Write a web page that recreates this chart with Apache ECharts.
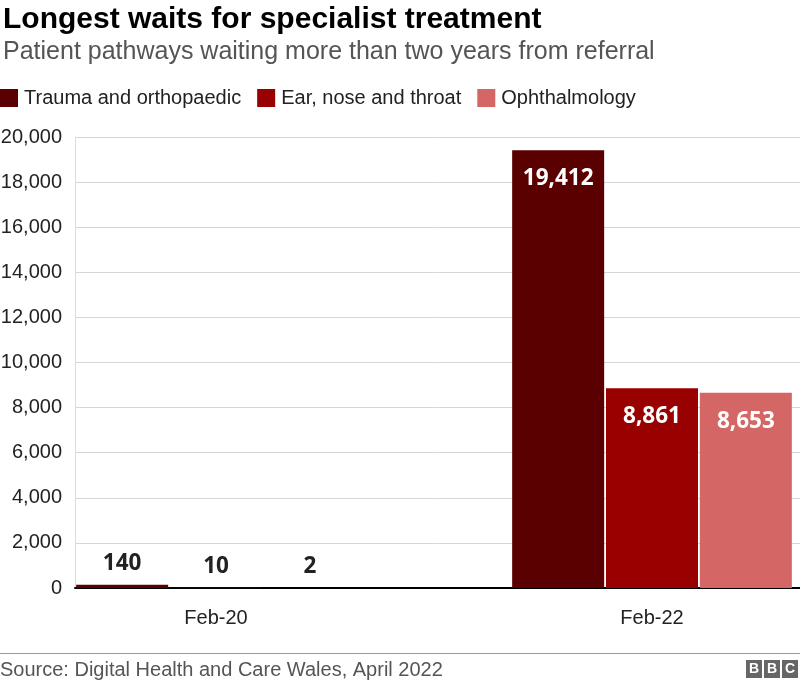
<!DOCTYPE html>
<html>
<head>
<meta charset="utf-8">
<script src="https://cdn.jsdelivr.net/npm/echarts@6/dist/echarts.min.js"></script>
<style>
html,body{margin:0;padding:0;background:#fff;}
#chart{width:800px;height:688px;}
</style>
</head>
<body>
<div id="chart"></div>
<script>
const categories = ['Feb-20', 'Feb-22'];
const trauma = [140, 19412];
const ent = [10, 8861];
const ophthalmology = [2, 8653];
const seriesNames = ['Trauma and orthopaedic', 'Ear, nose and throat', 'Ophthalmology'];
const seriesColors = ['#5a0000', '#990000', '#d56666'];

function fmt(v) { return String(v).replace(/\B(?=(\d{3})+(?!\d))/g, ','); }

function mkData(arr) {
  return arr.map(v => {
    const big = v > 5000;
    return {
      value: v,
      label: big ? {position: 'insideTop', distance: 17, color: '#fff'} : {position: 'top', distance: 10, color: '#222'}
    };
  });
}

const font = '"Liberation Sans", Arial, Helvetica, sans-serif';
const chart = echarts.init(document.getElementById('chart'), null, {renderer: 'canvas'});
const seriesArr = [trauma, ent, ophthalmology].map((arr, i) => ({
  name: seriesNames[i],
  type: 'bar',
  xAxisIndex: 1,
  yAxisIndex: 1,
  barWidth: 92,
  barGap: '2%',
  itemStyle: {color: seriesColors[i]},
  label: {show: true, fontFamily: '"Open Sans", "Noto Sans", sans-serif', fontWeight: 'bold', fontSize: 22.5, formatter: p => fmt(p.value)},
  data: mkData(arr)
}));
seriesArr.push({type: 'bar', xAxisIndex: 0, yAxisIndex: 0, data: [], silent: true});

chart.setOption({
  animation: false,
  textStyle: {fontFamily: font},
  title: {
    left: -2, top: 0,
    text: 'Longest waits for specialist treatment',
    subtext: 'Patient pathways waiting more than two years from referral',
    itemGap: 5,
    textStyle: {fontFamily: font, fontWeight: 'bold', fontSize: 30, color: '#000'},
    subtextStyle: {fontFamily: font, fontSize: 25, color: '#555'}
  },
  legend: {
    left: -5, top: 83,
    data: seriesNames,
    icon: 'rect',
    itemWidth: 18, itemHeight: 18, itemGap: 16,
    textStyle: {fontFamily: font, fontSize: 20, color: '#222', padding: [0, 0, 0, 1]}
  },
  grid: [
    {left: 75, right: 0, top: 137, bottom: 100, outerBoundsMode: 'none'},
    {left: -2, width: 872, top: 137, bottom: 100, outerBoundsMode: 'none'}
  ],
  xAxis: [
    {gridIndex: 0, type: 'category', data: categories,
     axisLine: {lineStyle: {color: '#000', width: 2}}, axisTick: {show: false}, axisLabel: {show: false}},
    {gridIndex: 1, type: 'category', data: categories,
     axisLine: {show: false}, axisTick: {show: false},
     axisLabel: {fontFamily: font, fontSize: 20, color: '#222', margin: 20}}
  ],
  yAxis: [
    {gridIndex: 0, type: 'value', min: 0, max: 20000, interval: 2000,
     axisLine: {show: true, lineStyle: {color: '#ddd'}}, axisTick: {show: false},
     splitLine: {lineStyle: {color: '#d6d6d6'}},
     axisLabel: {fontFamily: font, fontSize: 20, color: '#222', margin: 13, formatter: v => fmt(v)}},
    {gridIndex: 1, type: 'value', min: 0, max: 20000, interval: 2000, show: false}
  ],
  graphic: [
    {type: 'rect', left: 0, top: 653, shape: {width: 800, height: 1}, style: {fill: '#999'}},
    {type: 'text', left: 0, top: 660, style: {text: 'Source: Digital Health and Care Wales, April 2022', font: '20px ' + font, fill: '#555'}},
    {type: 'group', left: 746, top: 660, children: [
      {type: 'rect', shape: {x: 0, y: 0, width: 16, height: 18}, style: {fill: '#666'}},
      {type: 'rect', shape: {x: 18, y: 0, width: 16, height: 18}, style: {fill: '#666'}},
      {type: 'rect', shape: {x: 36, y: 0, width: 16, height: 18}, style: {fill: '#666'}},
      {type: 'text', x: 8, y: 9, style: {text: 'B', font: 'bold 14px ' + font, fill: '#fff', align: 'center', verticalAlign: 'middle'}},
      {type: 'text', x: 26, y: 9, style: {text: 'B', font: 'bold 14px ' + font, fill: '#fff', align: 'center', verticalAlign: 'middle'}},
      {type: 'text', x: 44, y: 9, style: {text: 'C', font: 'bold 14px ' + font, fill: '#fff', align: 'center', verticalAlign: 'middle'}}
    ]}
  ],
  series: seriesArr
});
</script>
</body>
</html>
